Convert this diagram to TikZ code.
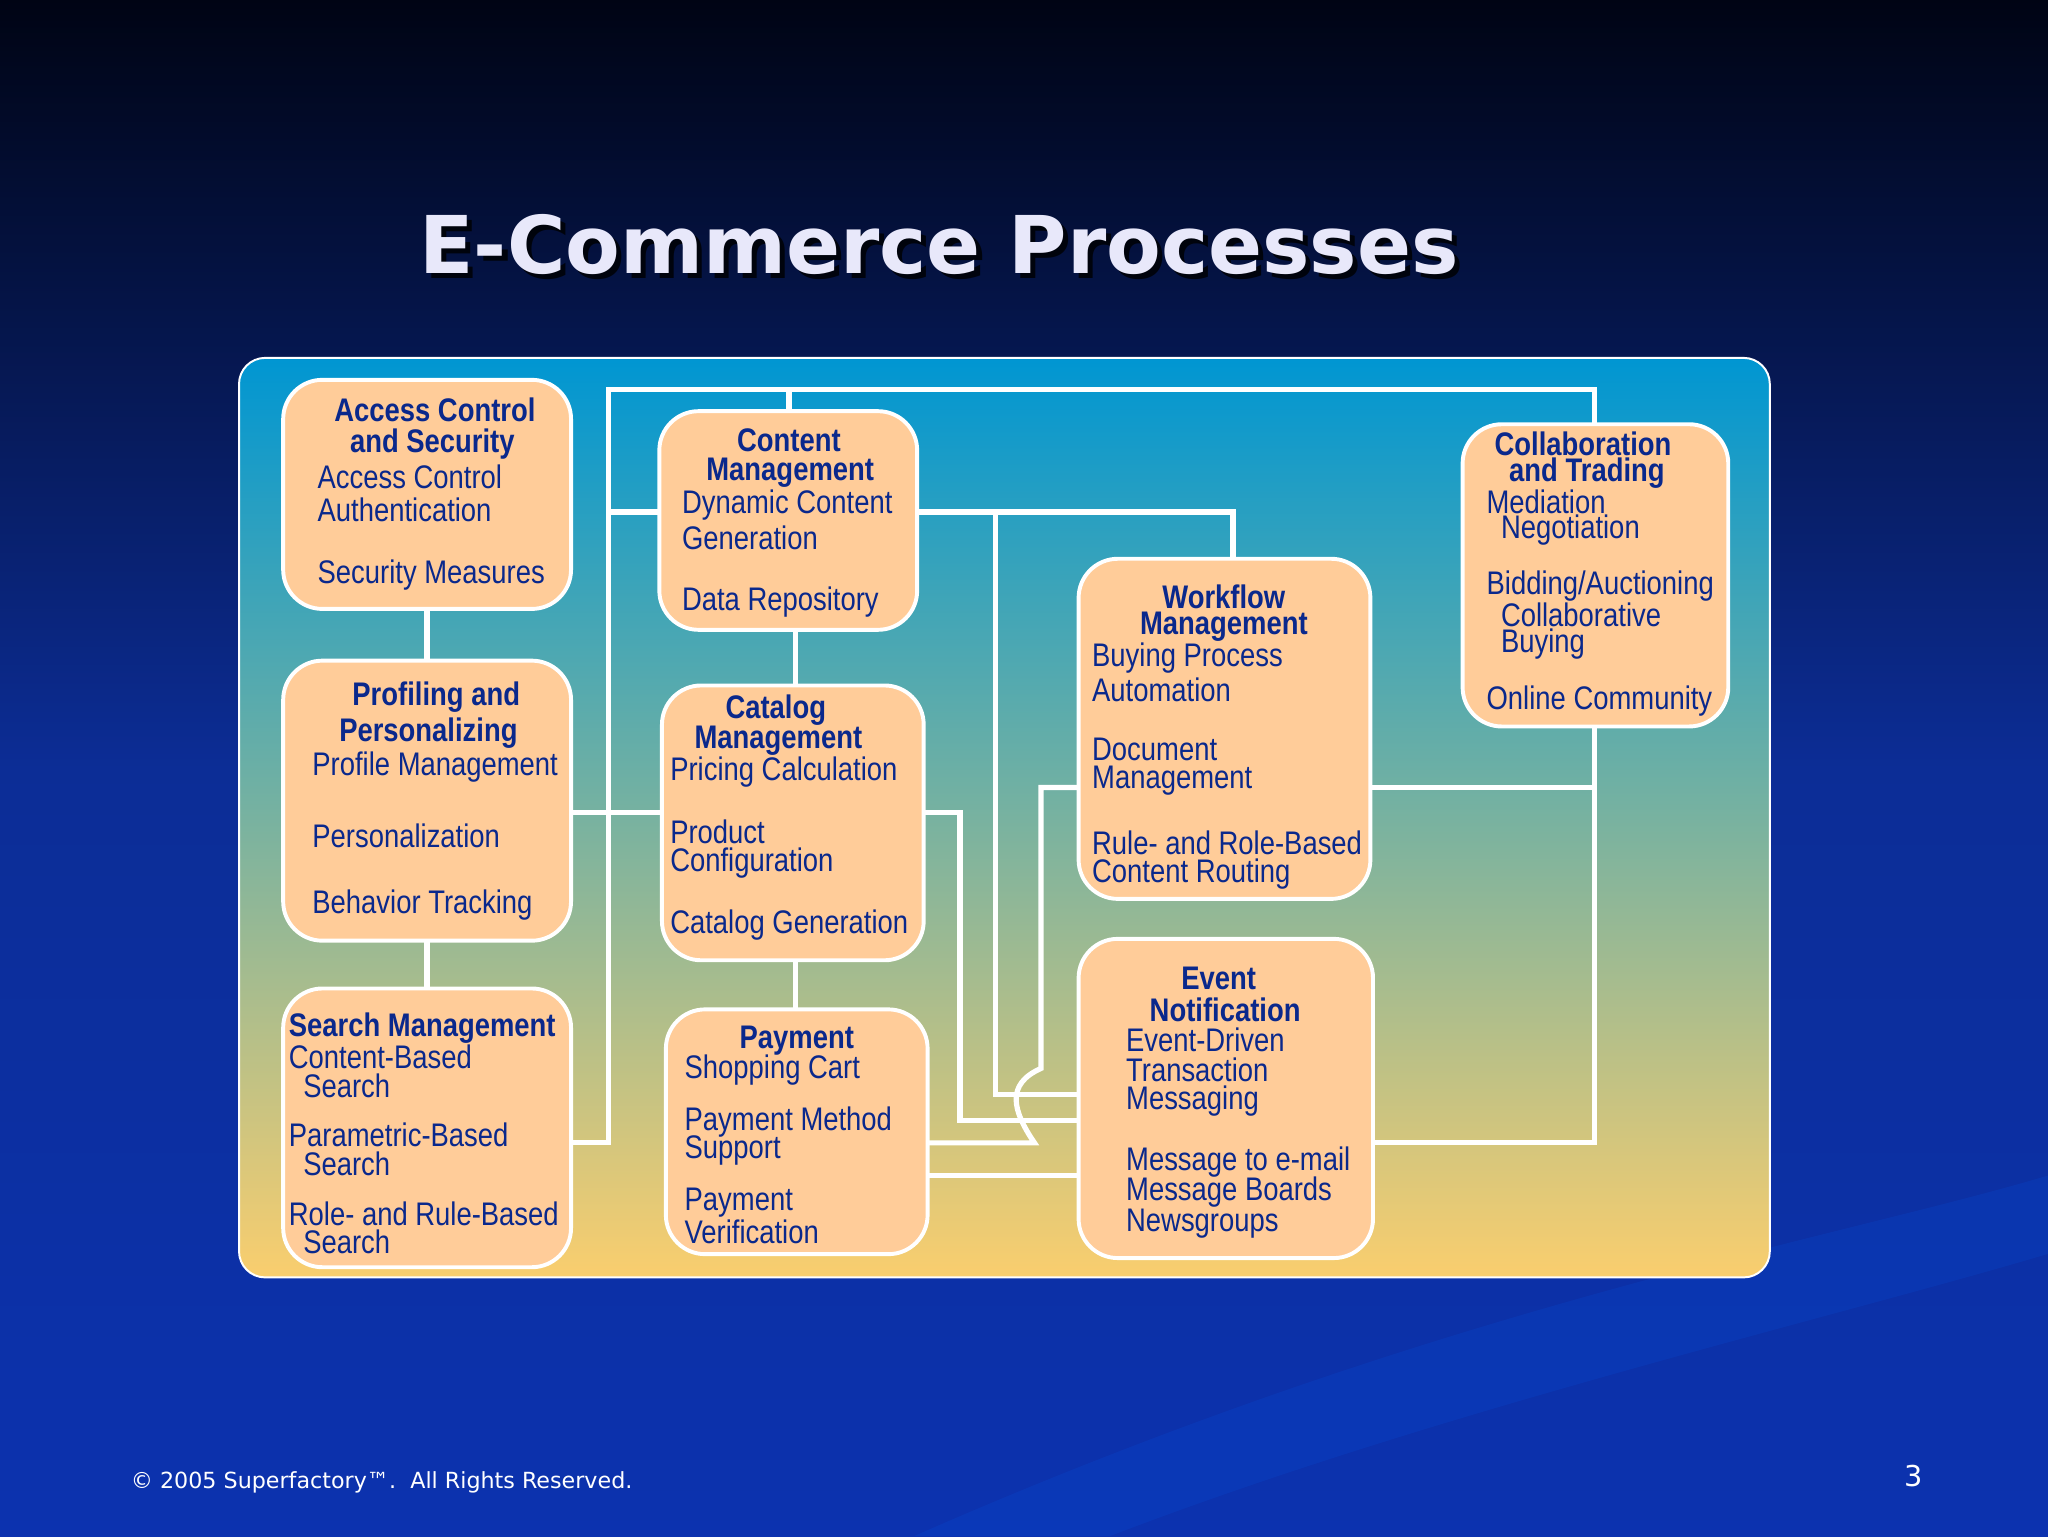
\documentclass[tikz,border=0pt]{standalone}
\usepackage{fontspec}
\setmainfont{Liberation Sans}[FakeStretch=0.84]
\newfontfamily\dv{DejaVu Sans}
\usetikzlibrary{calc}
\definecolor{bx}{RGB}{255,204,153}
\definecolor{tx}{RGB}{10,40,140}
\definecolor{pt}{RGB}{0,150,210}
\definecolor{pb}{RGB}{250,206,110}
\definecolor{pm}{RGB}{120,178,160}
\definecolor{bgt}{RGB}{0,4,20}
\definecolor{bgm}{RGB}{12,45,150}
\definecolor{bgb}{RGB}{12,50,175}
\tikzset{
 box/.style={draw=white,line width=3pt,fill=bx,rounded corners=30pt,inner sep=0},
 con/.style={draw=white,line width=4pt},
 bl/.style={anchor=west,text=tx,font=\fontsize{25}{25}\selectfont,inner sep=0},
 hd/.style={anchor=center,text=tx,font=\fontsize{25}{25}\selectfont\bfseries,inner sep=0},
}
\newcommand\Tl[4]{\node[bl] (#1) at (#2,#3) {#4};}
\newcommand\Hd[4]{\node[hd] (#1) at (#2,#3) {#4};}
\begin{document}
\begin{tikzpicture}[x=1pt,y=-1pt]
\useasboundingbox (0,0) rectangle (1568,1176);
\shade[top color=bgt,bottom color=bgb,middle color=bgm] (0,0) rectangle (1568,1176);
\fill[blue!60!cyan,opacity=0.12] (700,1176) .. controls (1100,1000) and (1400,950) .. (1568,900) -- (1568,960) .. controls (1400,1010) and (1100,1080) .. (850,1176) -- cycle;
\node[font=\dv\fontsize{61}{61}\selectfont\bfseries,text=black,opacity=0.8] (tsh) at (723,191) {E-Commerce Processes};
\node[font=\dv\fontsize{61}{61}\selectfont\bfseries,text={rgb,255:red,232;green,232;blue,250}] (title) at (719,187) {E-Commerce Processes};
\node[font=\dv\fontsize{17}{17}\selectfont,text=white,anchor=west,inner sep=0] (foot) at (100,1135) {© 2005 Superfactory™.\ \ All Rights Reserved.};
\node[font=\dv\fontsize{22}{22}\selectfont,text=white,inner sep=0] (pg) at (1465,1130) {3};
% panel
\shade[top color=pt,bottom color=pb,middle color=pm,rounded corners=20pt] (183,274) rectangle (1355,978);
\draw[white,line width=1.5pt,rounded corners=20pt] (183,274) rectangle (1355,978);
% levels
\coordinate (y298) at (0,298);
\coordinate (y392) at (0,392);
\coordinate (y603) at (0,603);
\coordinate (y622) at (0,622);
\coordinate (y838) at (0,838);
\coordinate (y858) at (0,858);
\coordinate (y875) at (0,875);
\coordinate (y900) at (0,900);
\coordinate (x466) at (466,0);
\coordinate (x762) at (762,0);
\coordinate (x735) at (735,0);
\coordinate (x797) at (797,0);
\coordinate (x1221) at (1221,0);
\coordinate (x604) at (604,0);
\coordinate (x944) at (944,0);
\coordinate (x327) at (327,0);
\coordinate (x609) at (609,0);
% boxes (positioned only; drawn later)
\path (327,378.5) node[minimum width=220pt,minimum height=175pt] (acc) {};
\path (327,613) node[minimum width=220pt,minimum height=214pt] (pro) {};
\path (327,863.5) node[minimum width=220pt,minimum height=213pt] (sea) {};
\path (603.5,398.5) node[minimum width=197pt,minimum height=167pt] (cm) {};
\path (607,630) node[minimum width=200pt,minimum height=210pt] (cat) {};
\path (610,866.5) node[minimum width=200pt,minimum height=187pt] (pay) {};
\path (937.5,558) node[minimum width=223pt,minimum height=260pt] (wf) {};
\path (938.5,841) node[minimum width=225pt,minimum height=244pt] (ev) {};
\path (1221.5,440.5) node[minimum width=203pt,minimum height=231pt] (col) {};
% connectors
\draw[con] (sea.east |- y875) -- (x466 |- y875) -- (x466 |- y298) -- (x1221 |- y298) -- (col.north -| x1221);
\draw[con] (x604 |- y298) -- (cm.north -| x604);
\draw[con] (x466 |- y392) -- (cm.west |- y392);
\draw[con] (pro.east |- y622) -- (cat.west |- y622);
\draw[con] (acc.south -| x327) -- (pro.north -| x327);
\draw[con] (pro.south -| x327) -- (sea.north -| x327);
\draw[con] (cm.south -| x609) -- (cat.north -| x609);
\draw[con] (cat.south -| x609) -- (pay.north -| x609);
\draw[con] (cm.east |- y392) -- (x944 |- y392) -- (wf.north -| x944);
\draw[con] (x762 |- y392) -- (x762 |- y838) -- (ev.west |- y838);
\draw[con] (cat.east |- y622) -- (x735 |- y622) -- (x735 |- y858) -- (ev.west |- y858);
\coordinate (hopa) at (797,818);
\coordinate (hopb) at (792,875);
\draw[con] (wf.west |- y603) -- (x797 |- y603) -- (hopa) .. controls (770,830) and (775,850) .. (hopb) -- (pay.east |- y875);
\draw[con] (pay.east |- y900) -- (ev.west |- y900);
\draw[con] (wf.east |- y603) -- (x1221 |- y603);
\draw[con] (col.south -| x1221) -- (x1221 |- y875) -- (ev.east |- y875);
% boxes drawn
\foreach \n in {acc,pro,sea,cm,cat,pay,wf,ev,col}{
 \draw[box] (\n.south west) rectangle (\n.north east);
}
% texts
\Hd{a1}{333}{314}{Access Control}
\Hd{a2}{331}{340}{and Security}
\Tl{a3}{243}{365}{Access Control}
\Tl{a4}{243}{390}{Authentication}
\Tl{a5}{243}{440}{Security Measures}
\Hd{p1}{334}{534}{Profiling and}
\Hd{p2}{328}{561}{Personalizing}
\Tl{p3}{239}{587}{Profile Management}
\Tl{p4}{239}{640}{Personalization}
\Tl{p5}{239}{693}{Behavior Tracking}
\node[hd,anchor=west] (s1) at (221,787) {Search Management};
\Tl{s2}{221}{809}{Content-Based}
\Tl{s3}{232}{831}{Search}
\Tl{s4}{221}{869}{Parametric-Based}
\Tl{s5}{232}{891}{Search}
\Tl{s6}{221}{929}{Role- and Rule-Based}
\Tl{s7}{232}{951}{Search}
\Hd{c1}{604}{337}{Content}
\Hd{c2}{605}{362}{Management}
\Tl{c3}{522}{387}{Dynamic Content}
\Tl{c4}{522}{412}{Generation}
\Tl{c5}{522}{461}{Data Repository}
\Hd{k1}{594}{544}{Catalog}
\Hd{k2}{596}{567}{Management}
\Tl{k3}{513}{591}{Pricing Calculation}
\Tl{k4}{513}{637}{Product}
\Tl{k5}{513}{661}{Configuration}
\Tl{k6}{513}{708}{Catalog Generation}
\Hd{y1}{610}{797}{Payment}
\Tl{y2}{524}{819}{Shopping Cart}
\Tl{y3}{524}{859}{Payment Method}
\Tl{y4}{524}{881}{Support}
\Tl{y5}{524}{921}{Payment}
\Tl{y6}{524}{943}{Verification}
\Hd{w1}{937}{457}{Workflow}
\Hd{w2}{937}{480}{Management}
\Tl{w3}{836}{504}{Buying Process}
\Tl{w4}{836}{528}{Automation}
\Tl{w5}{836}{574}{Document}
\Tl{w6}{836}{598}{Management}
\Tl{w7}{836}{645}{Rule- and Role-Based}
\Tl{w8}{836}{669}{Content Routing}
\Hd{e1}{933}{749}{Event}
\Hd{e2}{938}{773}{Notification}
\Tl{e3}{862}{796}{Event-Driven}
\Tl{e4}{862}{819}{Transaction}
\Tl{e5}{862}{843}{Messaging}
\Tl{e6}{862}{890}{Message to e-mail}
\Tl{e7}{862}{913}{Message Boards}
\Tl{e8}{862}{937}{Newsgroups}
\Hd{o1}{1212}{340}{Collaboration}
\Hd{o2}{1215}{362}{and Trading}
\Tl{o3}{1138}{384}{Mediation}
\Tl{o4}{1149}{406}{Negotiation}
\Tl{o5}{1138}{449}{Bidding/Auctioning}
\Tl{o6}{1149}{471}{Collaborative}
\Tl{o7}{1149}{493}{Buying}
\Tl{o8}{1138}{537}{Online Community}
\end{tikzpicture}
\end{document}
